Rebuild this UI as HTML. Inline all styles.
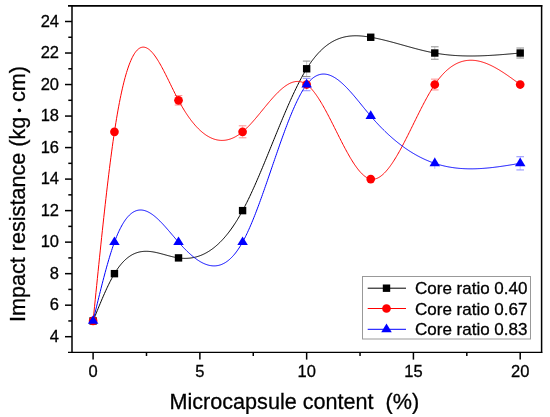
<!DOCTYPE html><html><head><meta charset="utf-8"><style>html,body{margin:0;padding:0;background:#fff;overflow:hidden}svg{display:block}</style></head><body><svg width="550" height="417" viewBox="0 0 550 417">
<rect width="550" height="417" fill="#fff"/>
<g stroke-width="1" fill="none" opacity="0.45">
<path d="M238.78,125.82H246.39M238.78,137.82H246.39" stroke="#f00"/>
<path d="M242.59,125.82V137.82" stroke="#f00" opacity="0.5"/>
<path d="M302.85,61.08H310.45M302.85,76.48H310.45" stroke="#000"/>
<path d="M306.65,61.08V76.48" stroke="#000" opacity="0.5"/>
<path d="M302.85,78.34H310.45M302.85,90.74H310.45" stroke="#00f"/>
<path d="M306.65,78.34V90.74" stroke="#00f" opacity="0.5"/>
<path d="M430.98,46.82H438.58M430.98,59.22H438.58" stroke="#000"/>
<path d="M434.78,46.82V59.22" stroke="#000" opacity="0.5"/>
<path d="M430.98,79.14H438.58M430.98,89.94H438.58" stroke="#f00"/>
<path d="M434.78,79.14V89.94" stroke="#f00" opacity="0.5"/>
<path d="M516.40,48.02H524.00M516.40,58.02H524.00" stroke="#000"/>
<path d="M520.20,48.02V58.02" stroke="#000" opacity="0.5"/>
<path d="M516.40,156.74H524.00M516.40,169.94H524.00" stroke="#00f"/>
<path d="M520.20,156.74V169.94" stroke="#00f" opacity="0.5"/>
<path d="M174.72,95.60H182.32M174.72,105.00H182.32" stroke="#f00"/>
<path d="M178.52,95.60V105.00" stroke="#f00" opacity="0.5"/>
<path d="M434.78,157.34V168.84" stroke="#00f" opacity="0.6"/>
</g>
<path d="M93.10,320.94 L93.81,319.17 L94.52,317.40 L95.24,315.63 L95.95,313.87 L96.66,312.12 L97.37,310.36 L98.08,308.62 L98.79,306.89 L99.51,305.16 L100.22,303.45 L100.93,301.75 L101.64,300.07 L102.35,298.40 L103.07,296.75 L103.78,295.11 L104.49,293.50 L105.20,291.90 L105.91,290.33 L106.62,288.78 L107.34,287.26 L108.05,285.76 L108.76,284.29 L109.47,282.85 L110.18,281.44 L110.90,280.06 L111.61,278.71 L112.32,277.39 L113.03,276.11 L113.74,274.87 L114.45,273.66 L115.17,272.49 L115.88,271.36 L116.59,270.27 L117.30,269.22 L118.01,268.20 L118.73,267.22 L119.44,266.27 L120.15,265.36 L120.86,264.48 L121.57,263.64 L122.29,262.83 L123.00,262.05 L123.71,261.31 L124.42,260.60 L125.13,259.92 L125.84,259.27 L126.56,258.65 L127.27,258.06 L127.98,257.49 L128.69,256.96 L129.40,256.46 L130.12,255.98 L130.83,255.53 L131.54,255.10 L132.25,254.70 L132.96,254.33 L133.67,253.98 L134.39,253.66 L135.10,253.35 L135.81,253.08 L136.52,252.82 L137.23,252.59 L137.95,252.37 L138.66,252.18 L139.37,252.01 L140.08,251.86 L140.79,251.73 L141.50,251.61 L142.22,251.52 L142.93,251.44 L143.64,251.38 L144.35,251.34 L145.06,251.31 L145.78,251.30 L146.49,251.30 L147.20,251.31 L147.91,251.34 L148.62,251.39 L149.33,251.44 L150.05,251.51 L150.76,251.59 L151.47,251.68 L152.18,251.78 L152.89,251.89 L153.61,252.01 L154.32,252.14 L155.03,252.28 L155.74,252.42 L156.45,252.58 L157.16,252.74 L157.88,252.90 L158.59,253.07 L159.30,253.25 L160.01,253.43 L160.72,253.61 L161.44,253.80 L162.15,253.99 L162.86,254.18 L163.57,254.38 L164.28,254.57 L165.00,254.77 L165.71,254.97 L166.42,255.16 L167.13,255.36 L167.84,255.55 L168.55,255.74 L169.27,255.93 L169.98,256.12 L170.69,256.30 L171.40,256.48 L172.11,256.65 L172.83,256.82 L173.54,256.98 L174.25,257.13 L174.96,257.28 L175.67,257.42 L176.38,257.56 L177.10,257.68 L177.81,257.79 L178.52,257.90 L179.23,257.99 L179.94,258.08 L180.66,258.15 L181.37,258.22 L182.08,258.27 L182.79,258.31 L183.50,258.34 L184.21,258.36 L184.93,258.37 L185.64,258.37 L186.35,258.35 L187.06,258.33 L187.77,258.29 L188.49,258.24 L189.20,258.18 L189.91,258.10 L190.62,258.02 L191.33,257.92 L192.04,257.81 L192.76,257.69 L193.47,257.55 L194.18,257.40 L194.89,257.24 L195.60,257.07 L196.32,256.88 L197.03,256.68 L197.74,256.46 L198.45,256.24 L199.16,255.99 L199.88,255.74 L200.59,255.47 L201.30,255.19 L202.01,254.89 L202.72,254.58 L203.43,254.25 L204.15,253.91 L204.86,253.55 L205.57,253.18 L206.28,252.80 L206.99,252.40 L207.71,251.98 L208.42,251.55 L209.13,251.11 L209.84,250.65 L210.55,250.17 L211.26,249.68 L211.98,249.17 L212.69,248.65 L213.40,248.11 L214.11,247.55 L214.82,246.98 L215.54,246.39 L216.25,245.78 L216.96,245.16 L217.67,244.52 L218.38,243.86 L219.09,243.19 L219.81,242.50 L220.52,241.79 L221.23,241.07 L221.94,240.33 L222.65,239.57 L223.37,238.79 L224.08,237.99 L224.79,237.18 L225.50,236.35 L226.21,235.50 L226.92,234.63 L227.64,233.74 L228.35,232.83 L229.06,231.91 L229.77,230.97 L230.48,230.00 L231.20,229.02 L231.91,228.02 L232.62,227.00 L233.33,225.96 L234.04,224.90 L234.75,223.82 L235.47,222.72 L236.18,221.61 L236.89,220.47 L237.60,219.31 L238.31,218.13 L239.03,216.93 L239.74,215.71 L240.45,214.47 L241.16,213.21 L241.87,211.92 L242.59,210.62 L243.30,209.30 L244.01,207.95 L244.72,206.58 L245.43,205.20 L246.14,203.79 L246.86,202.37 L247.57,200.93 L248.28,199.47 L248.99,198.00 L249.70,196.50 L250.42,195.00 L251.13,193.47 L251.84,191.93 L252.55,190.38 L253.26,188.81 L253.97,187.23 L254.69,185.64 L255.40,184.03 L256.11,182.41 L256.82,180.78 L257.53,179.14 L258.25,177.49 L258.96,175.83 L259.67,174.16 L260.38,172.48 L261.09,170.79 L261.80,169.10 L262.52,167.39 L263.23,165.68 L263.94,163.97 L264.65,162.25 L265.36,160.52 L266.08,158.79 L266.79,157.05 L267.50,155.31 L268.21,153.57 L268.92,151.82 L269.63,150.07 L270.35,148.32 L271.06,146.57 L271.77,144.82 L272.48,143.07 L273.19,141.32 L273.91,139.57 L274.62,137.82 L275.33,136.07 L276.04,134.32 L276.75,132.58 L277.46,130.84 L278.18,129.11 L278.89,127.38 L279.60,125.65 L280.31,123.93 L281.02,122.22 L281.74,120.51 L282.45,118.81 L283.16,117.11 L283.87,115.43 L284.58,113.75 L285.29,112.08 L286.01,110.43 L286.72,108.78 L287.43,107.14 L288.14,105.51 L288.85,103.90 L289.57,102.29 L290.28,100.70 L290.99,99.13 L291.70,97.56 L292.41,96.01 L293.13,94.48 L293.84,92.96 L294.55,91.45 L295.26,89.97 L295.97,88.50 L296.68,87.04 L297.40,85.61 L298.11,84.19 L298.82,82.79 L299.53,81.41 L300.24,80.05 L300.96,78.71 L301.67,77.39 L302.38,76.09 L303.09,74.81 L303.80,73.56 L304.51,72.33 L305.23,71.12 L305.94,69.94 L306.65,68.78 L307.36,67.65 L308.07,66.54 L308.79,65.45 L309.50,64.39 L310.21,63.35 L310.92,62.34 L311.63,61.35 L312.34,60.38 L313.06,59.44 L313.77,58.52 L314.48,57.62 L315.19,56.74 L315.90,55.89 L316.62,55.05 L317.33,54.24 L318.04,53.45 L318.75,52.68 L319.46,51.93 L320.17,51.21 L320.89,50.50 L321.60,49.81 L322.31,49.15 L323.02,48.50 L323.73,47.87 L324.45,47.26 L325.16,46.67 L325.87,46.10 L326.58,45.55 L327.29,45.01 L328.00,44.49 L328.72,44.00 L329.43,43.51 L330.14,43.05 L330.85,42.60 L331.56,42.17 L332.28,41.76 L332.99,41.36 L333.70,40.98 L334.41,40.61 L335.12,40.26 L335.84,39.92 L336.55,39.60 L337.26,39.30 L337.97,39.01 L338.68,38.73 L339.39,38.47 L340.11,38.22 L340.82,37.99 L341.53,37.76 L342.24,37.56 L342.95,37.36 L343.67,37.18 L344.38,37.01 L345.09,36.85 L345.80,36.70 L346.51,36.57 L347.22,36.45 L347.94,36.33 L348.65,36.23 L349.36,36.14 L350.07,36.06 L350.78,35.99 L351.50,35.94 L352.21,35.89 L352.92,35.85 L353.63,35.82 L354.34,35.79 L355.05,35.78 L355.77,35.78 L356.48,35.78 L357.19,35.79 L357.90,35.82 L358.61,35.84 L359.33,35.88 L360.04,35.92 L360.75,35.97 L361.46,36.03 L362.17,36.09 L362.88,36.16 L363.60,36.23 L364.31,36.32 L365.02,36.40 L365.73,36.49 L366.44,36.59 L367.16,36.69 L367.87,36.80 L368.58,36.91 L369.29,37.02 L370.00,37.14 L370.72,37.26 L371.43,37.38 L372.14,37.51 L372.85,37.64 L373.56,37.78 L374.27,37.92 L374.99,38.06 L375.70,38.20 L376.41,38.35 L377.12,38.50 L377.83,38.65 L378.55,38.80 L379.26,38.96 L379.97,39.12 L380.68,39.28 L381.39,39.44 L382.10,39.61 L382.82,39.78 L383.53,39.95 L384.24,40.12 L384.95,40.29 L385.66,40.47 L386.38,40.65 L387.09,40.83 L387.80,41.01 L388.51,41.19 L389.22,41.38 L389.93,41.56 L390.65,41.75 L391.36,41.94 L392.07,42.13 L392.78,42.32 L393.49,42.51 L394.21,42.71 L394.92,42.90 L395.63,43.10 L396.34,43.29 L397.05,43.49 L397.76,43.69 L398.48,43.88 L399.19,44.08 L399.90,44.28 L400.61,44.48 L401.32,44.68 L402.04,44.88 L402.75,45.08 L403.46,45.28 L404.17,45.48 L404.88,45.68 L405.59,45.88 L406.31,46.08 L407.02,46.28 L407.73,46.47 L408.44,46.67 L409.15,46.87 L409.87,47.07 L410.58,47.26 L411.29,47.46 L412.00,47.65 L412.71,47.85 L413.42,48.04 L414.14,48.23 L414.85,48.42 L415.56,48.61 L416.27,48.80 L416.98,48.99 L417.70,49.17 L418.41,49.36 L419.12,49.54 L419.83,49.72 L420.54,49.90 L421.26,50.08 L421.97,50.25 L422.68,50.43 L423.39,50.60 L424.10,50.77 L424.81,50.94 L425.53,51.10 L426.24,51.27 L426.95,51.43 L427.66,51.58 L428.37,51.74 L429.09,51.89 L429.80,52.04 L430.51,52.19 L431.22,52.34 L431.93,52.48 L432.64,52.62 L433.36,52.76 L434.07,52.89 L434.78,53.02 L435.49,53.15 L436.20,53.27 L436.92,53.39 L437.63,53.51 L438.34,53.62 L439.05,53.74 L439.76,53.84 L440.47,53.95 L441.19,54.05 L441.90,54.15 L442.61,54.25 L443.32,54.34 L444.03,54.43 L444.75,54.52 L445.46,54.60 L446.17,54.69 L446.88,54.76 L447.59,54.84 L448.30,54.91 L449.02,54.99 L449.73,55.05 L450.44,55.12 L451.15,55.18 L451.86,55.24 L452.58,55.30 L453.29,55.36 L454.00,55.41 L454.71,55.46 L455.42,55.51 L456.13,55.55 L456.85,55.60 L457.56,55.64 L458.27,55.68 L458.98,55.71 L459.69,55.74 L460.41,55.78 L461.12,55.81 L461.83,55.83 L462.54,55.86 L463.25,55.88 L463.97,55.90 L464.68,55.92 L465.39,55.93 L466.10,55.95 L466.81,55.96 L467.52,55.97 L468.24,55.98 L468.95,55.98 L469.66,55.99 L470.37,55.99 L471.08,55.99 L471.80,55.99 L472.51,55.99 L473.22,55.98 L473.93,55.97 L474.64,55.97 L475.35,55.96 L476.07,55.94 L476.78,55.93 L477.49,55.92 L478.20,55.90 L478.91,55.88 L479.63,55.86 L480.34,55.84 L481.05,55.82 L481.76,55.79 L482.47,55.76 L483.18,55.74 L483.90,55.71 L484.61,55.68 L485.32,55.65 L486.03,55.61 L486.74,55.58 L487.46,55.54 L488.17,55.51 L488.88,55.47 L489.59,55.43 L490.30,55.39 L491.01,55.35 L491.73,55.31 L492.44,55.26 L493.15,55.22 L493.86,55.17 L494.57,55.13 L495.29,55.08 L496.00,55.03 L496.71,54.98 L497.42,54.93 L498.13,54.88 L498.85,54.83 L499.56,54.78 L500.27,54.72 L500.98,54.67 L501.69,54.61 L502.40,54.56 L503.12,54.50 L503.83,54.45 L504.54,54.39 L505.25,54.33 L505.96,54.27 L506.68,54.21 L507.39,54.15 L508.10,54.09 L508.81,54.03 L509.52,53.97 L510.23,53.91 L510.95,53.85 L511.66,53.78 L512.37,53.72 L513.08,53.66 L513.79,53.60 L514.51,53.53 L515.22,53.47 L515.93,53.41 L516.64,53.34 L517.35,53.28 L518.06,53.21 L518.78,53.15 L519.49,53.08 L520.20,53.02" fill="none" stroke="#000" stroke-width="1.0"/>
<path d="M93.10,320.94 L93.81,313.85 L94.52,306.77 L95.24,299.69 L95.95,292.63 L96.66,285.60 L97.37,278.58 L98.08,271.60 L98.79,264.66 L99.51,257.76 L100.22,250.91 L100.93,244.11 L101.64,237.36 L102.35,230.68 L103.07,224.07 L103.78,217.53 L104.49,211.07 L105.20,204.69 L105.91,198.41 L106.62,192.21 L107.34,186.12 L108.05,180.13 L108.76,174.25 L109.47,168.49 L110.18,162.85 L110.90,157.33 L111.61,151.95 L112.32,146.70 L113.03,141.59 L113.74,136.63 L114.45,131.82 L115.17,127.17 L115.88,122.67 L116.59,118.33 L117.30,114.13 L118.01,110.09 L118.73,106.20 L119.44,102.45 L120.15,98.84 L120.86,95.37 L121.57,92.05 L122.29,88.86 L123.00,85.80 L123.71,82.88 L124.42,80.10 L125.13,77.44 L125.84,74.90 L126.56,72.50 L127.27,70.21 L127.98,68.05 L128.69,66.01 L129.40,64.08 L130.12,62.27 L130.83,60.58 L131.54,58.99 L132.25,57.51 L132.96,56.15 L133.67,54.88 L134.39,53.72 L135.10,52.66 L135.81,51.70 L136.52,50.84 L137.23,50.08 L137.95,49.40 L138.66,48.82 L139.37,48.33 L140.08,47.92 L140.79,47.60 L141.50,47.37 L142.22,47.21 L142.93,47.13 L143.64,47.14 L144.35,47.21 L145.06,47.36 L145.78,47.58 L146.49,47.87 L147.20,48.23 L147.91,48.66 L148.62,49.14 L149.33,49.69 L150.05,50.30 L150.76,50.96 L151.47,51.68 L152.18,52.46 L152.89,53.28 L153.61,54.16 L154.32,55.08 L155.03,56.04 L155.74,57.05 L156.45,58.11 L157.16,59.20 L157.88,60.32 L158.59,61.49 L159.30,62.68 L160.01,63.91 L160.72,65.17 L161.44,66.46 L162.15,67.77 L162.86,69.10 L163.57,70.45 L164.28,71.83 L165.00,73.22 L165.71,74.63 L166.42,76.05 L167.13,77.48 L167.84,78.92 L168.55,80.37 L169.27,81.82 L169.98,83.28 L170.69,84.74 L171.40,86.20 L172.11,87.65 L172.83,89.10 L173.54,90.55 L174.25,91.98 L174.96,93.41 L175.67,94.82 L176.38,96.22 L177.10,97.60 L177.81,98.96 L178.52,100.30 L179.23,101.62 L179.94,102.92 L180.66,104.19 L181.37,105.44 L182.08,106.67 L182.79,107.88 L183.50,109.06 L184.21,110.22 L184.93,111.36 L185.64,112.48 L186.35,113.57 L187.06,114.64 L187.77,115.69 L188.49,116.72 L189.20,117.72 L189.91,118.71 L190.62,119.67 L191.33,120.61 L192.04,121.52 L192.76,122.42 L193.47,123.29 L194.18,124.14 L194.89,124.97 L195.60,125.77 L196.32,126.56 L197.03,127.32 L197.74,128.06 L198.45,128.78 L199.16,129.47 L199.88,130.15 L200.59,130.80 L201.30,131.43 L202.01,132.04 L202.72,132.63 L203.43,133.20 L204.15,133.74 L204.86,134.26 L205.57,134.77 L206.28,135.25 L206.99,135.70 L207.71,136.14 L208.42,136.56 L209.13,136.95 L209.84,137.32 L210.55,137.67 L211.26,138.00 L211.98,138.31 L212.69,138.60 L213.40,138.86 L214.11,139.11 L214.82,139.33 L215.54,139.54 L216.25,139.72 L216.96,139.88 L217.67,140.02 L218.38,140.13 L219.09,140.23 L219.81,140.31 L220.52,140.36 L221.23,140.40 L221.94,140.41 L222.65,140.40 L223.37,140.37 L224.08,140.32 L224.79,140.25 L225.50,140.16 L226.21,140.05 L226.92,139.92 L227.64,139.76 L228.35,139.59 L229.06,139.39 L229.77,139.18 L230.48,138.94 L231.20,138.69 L231.91,138.41 L232.62,138.11 L233.33,137.80 L234.04,137.46 L234.75,137.10 L235.47,136.72 L236.18,136.32 L236.89,135.90 L237.60,135.46 L238.31,135.00 L239.03,134.52 L239.74,134.02 L240.45,133.50 L241.16,132.96 L241.87,132.40 L242.59,131.82 L243.30,131.22 L244.01,130.60 L244.72,129.96 L245.43,129.30 L246.14,128.63 L246.86,127.94 L247.57,127.23 L248.28,126.51 L248.99,125.78 L249.70,125.03 L250.42,124.27 L251.13,123.49 L251.84,122.71 L252.55,121.91 L253.26,121.11 L253.97,120.29 L254.69,119.47 L255.40,118.63 L256.11,117.80 L256.82,116.95 L257.53,116.10 L258.25,115.24 L258.96,114.38 L259.67,113.52 L260.38,112.65 L261.09,111.78 L261.80,110.91 L262.52,110.04 L263.23,109.17 L263.94,108.30 L264.65,107.43 L265.36,106.56 L266.08,105.70 L266.79,104.84 L267.50,103.98 L268.21,103.13 L268.92,102.29 L269.63,101.45 L270.35,100.62 L271.06,99.80 L271.77,98.98 L272.48,98.17 L273.19,97.38 L273.91,96.59 L274.62,95.82 L275.33,95.06 L276.04,94.31 L276.75,93.58 L277.46,92.86 L278.18,92.15 L278.89,91.46 L279.60,90.79 L280.31,90.14 L281.02,89.50 L281.74,88.88 L282.45,88.28 L283.16,87.70 L283.87,87.14 L284.58,86.60 L285.29,86.09 L286.01,85.60 L286.72,85.13 L287.43,84.69 L288.14,84.27 L288.85,83.87 L289.57,83.51 L290.28,83.17 L290.99,82.86 L291.70,82.58 L292.41,82.32 L293.13,82.10 L293.84,81.91 L294.55,81.75 L295.26,81.62 L295.97,81.52 L296.68,81.46 L297.40,81.43 L298.11,81.44 L298.82,81.49 L299.53,81.57 L300.24,81.68 L300.96,81.84 L301.67,82.03 L302.38,82.27 L303.09,82.54 L303.80,82.86 L304.51,83.21 L305.23,83.61 L305.94,84.05 L306.65,84.54 L307.36,85.07 L308.07,85.64 L308.79,86.26 L309.50,86.91 L310.21,87.61 L310.92,88.35 L311.63,89.12 L312.34,89.93 L313.06,90.78 L313.77,91.66 L314.48,92.57 L315.19,93.52 L315.90,94.50 L316.62,95.51 L317.33,96.55 L318.04,97.62 L318.75,98.71 L319.46,99.83 L320.17,100.98 L320.89,102.15 L321.60,103.34 L322.31,104.55 L323.02,105.79 L323.73,107.04 L324.45,108.31 L325.16,109.60 L325.87,110.91 L326.58,112.23 L327.29,113.57 L328.00,114.92 L328.72,116.28 L329.43,117.65 L330.14,119.03 L330.85,120.42 L331.56,121.82 L332.28,123.23 L332.99,124.64 L333.70,126.06 L334.41,127.47 L335.12,128.90 L335.84,130.32 L336.55,131.74 L337.26,133.16 L337.97,134.58 L338.68,136.00 L339.39,137.41 L340.11,138.82 L340.82,140.22 L341.53,141.62 L342.24,143.00 L342.95,144.38 L343.67,145.74 L344.38,147.10 L345.09,148.44 L345.80,149.76 L346.51,151.08 L347.22,152.37 L347.94,153.65 L348.65,154.91 L349.36,156.15 L350.07,157.38 L350.78,158.58 L351.50,159.75 L352.21,160.91 L352.92,162.04 L353.63,163.14 L354.34,164.22 L355.05,165.26 L355.77,166.28 L356.48,167.27 L357.19,168.23 L357.90,169.16 L358.61,170.05 L359.33,170.91 L360.04,171.74 L360.75,172.52 L361.46,173.27 L362.17,173.98 L362.88,174.65 L363.60,175.28 L364.31,175.87 L365.02,176.42 L365.73,176.92 L366.44,177.37 L367.16,177.78 L367.87,178.15 L368.58,178.46 L369.29,178.72 L370.00,178.94 L370.72,179.10 L371.43,179.21 L372.14,179.27 L372.85,179.28 L373.56,179.23 L374.27,179.14 L374.99,179.00 L375.70,178.81 L376.41,178.58 L377.12,178.30 L377.83,177.97 L378.55,177.60 L379.26,177.19 L379.97,176.74 L380.68,176.24 L381.39,175.71 L382.10,175.13 L382.82,174.52 L383.53,173.86 L384.24,173.18 L384.95,172.45 L385.66,171.69 L386.38,170.90 L387.09,170.07 L387.80,169.21 L388.51,168.32 L389.22,167.39 L389.93,166.44 L390.65,165.46 L391.36,164.45 L392.07,163.41 L392.78,162.35 L393.49,161.26 L394.21,160.15 L394.92,159.01 L395.63,157.85 L396.34,156.67 L397.05,155.47 L397.76,154.24 L398.48,153.00 L399.19,151.74 L399.90,150.46 L400.61,149.17 L401.32,147.86 L402.04,146.53 L402.75,145.19 L403.46,143.84 L404.17,142.47 L404.88,141.09 L405.59,139.70 L406.31,138.31 L407.02,136.90 L407.73,135.49 L408.44,134.07 L409.15,132.64 L409.87,131.21 L410.58,129.77 L411.29,128.33 L412.00,126.88 L412.71,125.44 L413.42,123.99 L414.14,122.55 L414.85,121.10 L415.56,119.66 L416.27,118.22 L416.98,116.78 L417.70,115.35 L418.41,113.92 L419.12,112.50 L419.83,111.08 L420.54,109.67 L421.26,108.28 L421.97,106.89 L422.68,105.51 L423.39,104.14 L424.10,102.79 L424.81,101.45 L425.53,100.12 L426.24,98.81 L426.95,97.51 L427.66,96.23 L428.37,94.97 L429.09,93.72 L429.80,92.50 L430.51,91.30 L431.22,90.11 L431.93,88.95 L432.64,87.81 L433.36,86.70 L434.07,85.61 L434.78,84.54 L435.49,83.50 L436.20,82.49 L436.92,81.50 L437.63,80.54 L438.34,79.60 L439.05,78.69 L439.76,77.81 L440.47,76.95 L441.19,76.11 L441.90,75.30 L442.61,74.51 L443.32,73.74 L444.03,73.00 L444.75,72.29 L445.46,71.59 L446.17,70.92 L446.88,70.27 L447.59,69.65 L448.30,69.05 L449.02,68.46 L449.73,67.91 L450.44,67.37 L451.15,66.85 L451.86,66.36 L452.58,65.88 L453.29,65.43 L454.00,65.00 L454.71,64.59 L455.42,64.20 L456.13,63.82 L456.85,63.47 L457.56,63.14 L458.27,62.83 L458.98,62.53 L459.69,62.26 L460.41,62.00 L461.12,61.76 L461.83,61.54 L462.54,61.34 L463.25,61.16 L463.97,60.99 L464.68,60.84 L465.39,60.71 L466.10,60.59 L466.81,60.50 L467.52,60.41 L468.24,60.35 L468.95,60.30 L469.66,60.26 L470.37,60.24 L471.08,60.24 L471.80,60.25 L472.51,60.28 L473.22,60.32 L473.93,60.38 L474.64,60.45 L475.35,60.53 L476.07,60.63 L476.78,60.74 L477.49,60.87 L478.20,61.00 L478.91,61.15 L479.63,61.32 L480.34,61.49 L481.05,61.68 L481.76,61.88 L482.47,62.10 L483.18,62.32 L483.90,62.56 L484.61,62.80 L485.32,63.06 L486.03,63.33 L486.74,63.61 L487.46,63.90 L488.17,64.19 L488.88,64.50 L489.59,64.82 L490.30,65.15 L491.01,65.49 L491.73,65.83 L492.44,66.19 L493.15,66.55 L493.86,66.92 L494.57,67.30 L495.29,67.69 L496.00,68.09 L496.71,68.49 L497.42,68.90 L498.13,69.32 L498.85,69.74 L499.56,70.17 L500.27,70.61 L500.98,71.05 L501.69,71.50 L502.40,71.96 L503.12,72.42 L503.83,72.88 L504.54,73.35 L505.25,73.83 L505.96,74.31 L506.68,74.79 L507.39,75.28 L508.10,75.78 L508.81,76.27 L509.52,76.77 L510.23,77.27 L510.95,77.78 L511.66,78.29 L512.37,78.80 L513.08,79.32 L513.79,79.83 L514.51,80.35 L515.22,80.87 L515.93,81.39 L516.64,81.91 L517.35,82.44 L518.06,82.96 L518.78,83.49 L519.49,84.01 L520.20,84.54" fill="none" stroke="#f00" stroke-width="1.0"/>
<path d="M93.10,320.94 L93.81,317.97 L94.52,315.01 L95.24,312.04 L95.95,309.09 L96.66,306.14 L97.37,303.21 L98.08,300.29 L98.79,297.38 L99.51,294.50 L100.22,291.63 L100.93,288.79 L101.64,285.97 L102.35,283.18 L103.07,280.42 L103.78,277.69 L104.49,275.00 L105.20,272.34 L105.91,269.72 L106.62,267.14 L107.34,264.61 L108.05,262.12 L108.76,259.67 L109.47,257.28 L110.18,254.94 L110.90,252.66 L111.61,250.43 L112.32,248.26 L113.03,246.16 L113.74,244.12 L114.45,242.14 L115.17,240.23 L115.88,238.39 L116.59,236.62 L117.30,234.91 L118.01,233.27 L118.73,231.69 L119.44,230.17 L120.15,228.72 L120.86,227.33 L121.57,226.00 L122.29,224.73 L123.00,223.52 L123.71,222.36 L124.42,221.27 L125.13,220.23 L125.84,219.25 L126.56,218.32 L127.27,217.44 L127.98,216.62 L128.69,215.85 L129.40,215.14 L130.12,214.47 L130.83,213.86 L131.54,213.29 L132.25,212.77 L132.96,212.30 L133.67,211.87 L134.39,211.49 L135.10,211.16 L135.81,210.87 L136.52,210.62 L137.23,210.42 L137.95,210.26 L138.66,210.13 L139.37,210.05 L140.08,210.01 L140.79,210.00 L141.50,210.03 L142.22,210.10 L142.93,210.20 L143.64,210.34 L144.35,210.51 L145.06,210.72 L145.78,210.96 L146.49,211.22 L147.20,211.52 L147.91,211.85 L148.62,212.21 L149.33,212.60 L150.05,213.01 L150.76,213.45 L151.47,213.91 L152.18,214.40 L152.89,214.92 L153.61,215.45 L154.32,216.01 L155.03,216.59 L155.74,217.19 L156.45,217.81 L157.16,218.45 L157.88,219.11 L158.59,219.78 L159.30,220.47 L160.01,221.17 L160.72,221.89 L161.44,222.63 L162.15,223.37 L162.86,224.13 L163.57,224.90 L164.28,225.68 L165.00,226.47 L165.71,227.27 L166.42,228.07 L167.13,228.88 L167.84,229.70 L168.55,230.53 L169.27,231.35 L169.98,232.19 L170.69,233.02 L171.40,233.86 L172.11,234.69 L172.83,235.53 L173.54,236.37 L174.25,237.20 L174.96,238.04 L175.67,238.87 L176.38,239.69 L177.10,240.52 L177.81,241.33 L178.52,242.14 L179.23,242.94 L179.94,243.74 L180.66,244.52 L181.37,245.30 L182.08,246.07 L182.79,246.83 L183.50,247.58 L184.21,248.32 L184.93,249.05 L185.64,249.77 L186.35,250.48 L187.06,251.18 L187.77,251.86 L188.49,252.54 L189.20,253.20 L189.91,253.85 L190.62,254.48 L191.33,255.11 L192.04,255.72 L192.76,256.31 L193.47,256.89 L194.18,257.46 L194.89,258.01 L195.60,258.55 L196.32,259.07 L197.03,259.57 L197.74,260.06 L198.45,260.53 L199.16,260.98 L199.88,261.42 L200.59,261.83 L201.30,262.23 L202.01,262.61 L202.72,262.98 L203.43,263.32 L204.15,263.64 L204.86,263.94 L205.57,264.23 L206.28,264.49 L206.99,264.73 L207.71,264.95 L208.42,265.15 L209.13,265.32 L209.84,265.47 L210.55,265.60 L211.26,265.71 L211.98,265.79 L212.69,265.85 L213.40,265.89 L214.11,265.90 L214.82,265.89 L215.54,265.85 L216.25,265.78 L216.96,265.69 L217.67,265.57 L218.38,265.43 L219.09,265.26 L219.81,265.06 L220.52,264.83 L221.23,264.58 L221.94,264.30 L222.65,263.98 L223.37,263.64 L224.08,263.27 L224.79,262.87 L225.50,262.44 L226.21,261.98 L226.92,261.49 L227.64,260.97 L228.35,260.41 L229.06,259.83 L229.77,259.21 L230.48,258.56 L231.20,257.87 L231.91,257.15 L232.62,256.40 L233.33,255.62 L234.04,254.80 L234.75,253.94 L235.47,253.05 L236.18,252.12 L236.89,251.16 L237.60,250.17 L238.31,249.13 L239.03,248.06 L239.74,246.95 L240.45,245.81 L241.16,244.62 L241.87,243.40 L242.59,242.14 L243.30,240.84 L244.01,239.50 L244.72,238.13 L245.43,236.72 L246.14,235.27 L246.86,233.79 L247.57,232.28 L248.28,230.73 L248.99,229.16 L249.70,227.55 L250.42,225.91 L251.13,224.25 L251.84,222.55 L252.55,220.83 L253.26,219.09 L253.97,217.32 L254.69,215.52 L255.40,213.71 L256.11,211.87 L256.82,210.01 L257.53,208.13 L258.25,206.23 L258.96,204.31 L259.67,202.38 L260.38,200.43 L261.09,198.46 L261.80,196.48 L262.52,194.49 L263.23,192.49 L263.94,190.47 L264.65,188.44 L265.36,186.41 L266.08,184.36 L266.79,182.31 L267.50,180.25 L268.21,178.18 L268.92,176.11 L269.63,174.04 L270.35,171.96 L271.06,169.89 L271.77,167.81 L272.48,165.73 L273.19,163.65 L273.91,161.57 L274.62,159.50 L275.33,157.43 L276.04,155.36 L276.75,153.30 L277.46,151.25 L278.18,149.21 L278.89,147.17 L279.60,145.14 L280.31,143.12 L281.02,141.12 L281.74,139.13 L282.45,137.15 L283.16,135.18 L283.87,133.23 L284.58,131.30 L285.29,129.38 L286.01,127.48 L286.72,125.60 L287.43,123.74 L288.14,121.90 L288.85,120.08 L289.57,118.29 L290.28,116.52 L290.99,114.77 L291.70,113.05 L292.41,111.36 L293.13,109.69 L293.84,108.06 L294.55,106.45 L295.26,104.87 L295.97,103.32 L296.68,101.81 L297.40,100.33 L298.11,98.88 L298.82,97.47 L299.53,96.10 L300.24,94.76 L300.96,93.46 L301.67,92.20 L302.38,90.98 L303.09,89.80 L303.80,88.66 L304.51,87.56 L305.23,86.51 L305.94,85.50 L306.65,84.54 L307.36,83.62 L308.07,82.76 L308.79,81.93 L309.50,81.15 L310.21,80.42 L310.92,79.73 L311.63,79.08 L312.34,78.47 L313.06,77.91 L313.77,77.38 L314.48,76.90 L315.19,76.46 L315.90,76.06 L316.62,75.69 L317.33,75.36 L318.04,75.08 L318.75,74.83 L319.46,74.61 L320.17,74.43 L320.89,74.29 L321.60,74.18 L322.31,74.10 L323.02,74.06 L323.73,74.05 L324.45,74.07 L325.16,74.13 L325.87,74.21 L326.58,74.33 L327.29,74.48 L328.00,74.65 L328.72,74.86 L329.43,75.09 L330.14,75.35 L330.85,75.63 L331.56,75.95 L332.28,76.28 L332.99,76.65 L333.70,77.04 L334.41,77.45 L335.12,77.88 L335.84,78.34 L336.55,78.82 L337.26,79.32 L337.97,79.84 L338.68,80.38 L339.39,80.95 L340.11,81.53 L340.82,82.13 L341.53,82.74 L342.24,83.38 L342.95,84.03 L343.67,84.70 L344.38,85.38 L345.09,86.08 L345.80,86.79 L346.51,87.51 L347.22,88.25 L347.94,89.00 L348.65,89.77 L349.36,90.54 L350.07,91.33 L350.78,92.12 L351.50,92.93 L352.21,93.74 L352.92,94.56 L353.63,95.39 L354.34,96.23 L355.05,97.07 L355.77,97.92 L356.48,98.77 L357.19,99.63 L357.90,100.50 L358.61,101.36 L359.33,102.23 L360.04,103.11 L360.75,103.98 L361.46,104.85 L362.17,105.73 L362.88,106.61 L363.60,107.48 L364.31,108.35 L365.02,109.23 L365.73,110.09 L366.44,110.96 L367.16,111.82 L367.87,112.68 L368.58,113.53 L369.29,114.38 L370.00,115.22 L370.72,116.06 L371.43,116.89 L372.14,117.71 L372.85,118.52 L373.56,119.33 L374.27,120.13 L374.99,120.92 L375.70,121.71 L376.41,122.48 L377.12,123.25 L377.83,124.02 L378.55,124.77 L379.26,125.52 L379.97,126.27 L380.68,127.00 L381.39,127.73 L382.10,128.45 L382.82,129.17 L383.53,129.87 L384.24,130.57 L384.95,131.27 L385.66,131.95 L386.38,132.63 L387.09,133.31 L387.80,133.97 L388.51,134.63 L389.22,135.28 L389.93,135.93 L390.65,136.56 L391.36,137.20 L392.07,137.82 L392.78,138.44 L393.49,139.05 L394.21,139.65 L394.92,140.25 L395.63,140.84 L396.34,141.42 L397.05,142.00 L397.76,142.57 L398.48,143.14 L399.19,143.69 L399.90,144.24 L400.61,144.79 L401.32,145.32 L402.04,145.85 L402.75,146.38 L403.46,146.90 L404.17,147.41 L404.88,147.91 L405.59,148.41 L406.31,148.90 L407.02,149.38 L407.73,149.86 L408.44,150.33 L409.15,150.80 L409.87,151.26 L410.58,151.71 L411.29,152.15 L412.00,152.59 L412.71,153.03 L413.42,153.45 L414.14,153.87 L414.85,154.29 L415.56,154.69 L416.27,155.09 L416.98,155.49 L417.70,155.88 L418.41,156.26 L419.12,156.63 L419.83,157.00 L420.54,157.37 L421.26,157.72 L421.97,158.07 L422.68,158.42 L423.39,158.76 L424.10,159.09 L424.81,159.42 L425.53,159.74 L426.24,160.05 L426.95,160.36 L427.66,160.66 L428.37,160.95 L429.09,161.24 L429.80,161.53 L430.51,161.80 L431.22,162.07 L431.93,162.34 L432.64,162.60 L433.36,162.85 L434.07,163.10 L434.78,163.34 L435.49,163.58 L436.20,163.80 L436.92,164.03 L437.63,164.25 L438.34,164.46 L439.05,164.66 L439.76,164.86 L440.47,165.06 L441.19,165.25 L441.90,165.43 L442.61,165.61 L443.32,165.78 L444.03,165.95 L444.75,166.11 L445.46,166.27 L446.17,166.42 L446.88,166.57 L447.59,166.71 L448.30,166.85 L449.02,166.98 L449.73,167.10 L450.44,167.23 L451.15,167.34 L451.86,167.46 L452.58,167.56 L453.29,167.66 L454.00,167.76 L454.71,167.86 L455.42,167.94 L456.13,168.03 L456.85,168.11 L457.56,168.18 L458.27,168.25 L458.98,168.32 L459.69,168.38 L460.41,168.44 L461.12,168.50 L461.83,168.54 L462.54,168.59 L463.25,168.63 L463.97,168.67 L464.68,168.70 L465.39,168.73 L466.10,168.76 L466.81,168.78 L467.52,168.80 L468.24,168.82 L468.95,168.83 L469.66,168.83 L470.37,168.84 L471.08,168.84 L471.80,168.84 L472.51,168.83 L473.22,168.82 L473.93,168.81 L474.64,168.79 L475.35,168.77 L476.07,168.75 L476.78,168.73 L477.49,168.70 L478.20,168.67 L478.91,168.63 L479.63,168.60 L480.34,168.56 L481.05,168.51 L481.76,168.47 L482.47,168.42 L483.18,168.37 L483.90,168.32 L484.61,168.26 L485.32,168.20 L486.03,168.14 L486.74,168.08 L487.46,168.01 L488.17,167.94 L488.88,167.87 L489.59,167.80 L490.30,167.73 L491.01,167.65 L491.73,167.57 L492.44,167.49 L493.15,167.41 L493.86,167.33 L494.57,167.24 L495.29,167.15 L496.00,167.06 L496.71,166.97 L497.42,166.88 L498.13,166.79 L498.85,166.69 L499.56,166.59 L500.27,166.49 L500.98,166.39 L501.69,166.29 L502.40,166.19 L503.12,166.08 L503.83,165.98 L504.54,165.87 L505.25,165.76 L505.96,165.66 L506.68,165.55 L507.39,165.44 L508.10,165.32 L508.81,165.21 L509.52,165.10 L510.23,164.98 L510.95,164.87 L511.66,164.75 L512.37,164.64 L513.08,164.52 L513.79,164.41 L514.51,164.29 L515.22,164.17 L515.93,164.05 L516.64,163.93 L517.35,163.82 L518.06,163.70 L518.78,163.58 L519.49,163.46 L520.20,163.34" fill="none" stroke="#00f" stroke-width="1.0"/>
<rect x="89.40" y="317.24" width="7.4" height="7.4" fill="#000"/>
<rect x="110.75" y="269.96" width="7.4" height="7.4" fill="#000"/>
<rect x="174.82" y="254.20" width="7.4" height="7.4" fill="#000"/>
<rect x="238.89" y="206.92" width="7.4" height="7.4" fill="#000"/>
<rect x="302.95" y="65.08" width="7.4" height="7.4" fill="#000"/>
<rect x="367.02" y="33.56" width="7.4" height="7.4" fill="#000"/>
<rect x="431.08" y="49.32" width="7.4" height="7.4" fill="#000"/>
<rect x="516.50" y="49.32" width="7.4" height="7.4" fill="#000"/>
<circle cx="93.10" cy="320.94" r="4.35" fill="#f00"/>
<circle cx="114.45" cy="131.82" r="4.35" fill="#f00"/>
<circle cx="178.52" cy="100.30" r="4.35" fill="#f00"/>
<circle cx="242.59" cy="131.82" r="4.35" fill="#f00"/>
<circle cx="306.65" cy="84.54" r="4.35" fill="#f00"/>
<circle cx="370.72" cy="179.10" r="4.35" fill="#f00"/>
<circle cx="434.78" cy="84.54" r="4.35" fill="#f00"/>
<circle cx="520.20" cy="84.54" r="4.35" fill="#f00"/>
<polygon points="93.10,315.21 98.35,323.81 87.85,323.81" fill="#00f"/>
<polygon points="114.45,236.41 119.70,245.01 109.20,245.01" fill="#00f"/>
<polygon points="178.52,236.41 183.77,245.01 173.27,245.01" fill="#00f"/>
<polygon points="242.59,236.41 247.84,245.01 237.34,245.01" fill="#00f"/>
<polygon points="306.65,78.81 311.90,87.41 301.40,87.41" fill="#00f"/>
<polygon points="370.72,110.33 375.97,118.93 365.47,118.93" fill="#00f"/>
<polygon points="434.78,157.61 440.03,166.21 429.53,166.21" fill="#00f"/>
<polygon points="520.20,157.61 525.45,166.21 514.95,166.21" fill="#00f"/>
<g stroke="#000" fill="none">
<path d="M72,5V353" stroke-width="1.8" stroke="#2a2a2a"/>
<path d="M68,5.9H542.3" stroke-width="1.7"/>
<path d="M68,352.4H542.3" stroke-width="1.4"/>
<path d="M541.6,5V353" stroke-width="1.5"/>
<path d="M65,336.70H72" stroke-width="1.5"/>
<path d="M68.3,320.94H72" stroke-width="1.5"/>
<path d="M65,305.18H72" stroke-width="1.5"/>
<path d="M68.3,289.42H72" stroke-width="1.5"/>
<path d="M65,273.66H72" stroke-width="1.5"/>
<path d="M68.3,257.90H72" stroke-width="1.5"/>
<path d="M65,242.14H72" stroke-width="1.5"/>
<path d="M68.3,226.38H72" stroke-width="1.5"/>
<path d="M65,210.62H72" stroke-width="1.5"/>
<path d="M68.3,194.86H72" stroke-width="1.5"/>
<path d="M65,179.10H72" stroke-width="1.5"/>
<path d="M68.3,163.34H72" stroke-width="1.5"/>
<path d="M65,147.58H72" stroke-width="1.5"/>
<path d="M68.3,131.82H72" stroke-width="1.5"/>
<path d="M65,116.06H72" stroke-width="1.5"/>
<path d="M68.3,100.30H72" stroke-width="1.5"/>
<path d="M65,84.54H72" stroke-width="1.5"/>
<path d="M68.3,68.78H72" stroke-width="1.5"/>
<path d="M65,53.02H72" stroke-width="1.5"/>
<path d="M68.3,37.26H72" stroke-width="1.5"/>
<path d="M65,21.50H72" stroke-width="1.5"/>
<path d="M93.10,352V359.6" stroke-width="1.5"/>
<path d="M146.49,352V356" stroke-width="1.5"/>
<path d="M199.88,352V359.6" stroke-width="1.5"/>
<path d="M253.26,352V356" stroke-width="1.5"/>
<path d="M306.65,352V359.6" stroke-width="1.5"/>
<path d="M360.04,352V356" stroke-width="1.5"/>
<path d="M413.42,352V359.6" stroke-width="1.5"/>
<path d="M466.81,352V356" stroke-width="1.5"/>
<path d="M520.20,352V359.6" stroke-width="1.5"/>
</g>
<text x="59" y="342.00" text-anchor="end" font-family="Liberation Sans, sans-serif" stroke="#000" stroke-width="0.3" font-size="16.5">4</text>
<text x="59" y="310.48" text-anchor="end" font-family="Liberation Sans, sans-serif" stroke="#000" stroke-width="0.3" font-size="16.5">6</text>
<text x="59" y="278.96" text-anchor="end" font-family="Liberation Sans, sans-serif" stroke="#000" stroke-width="0.3" font-size="16.5">8</text>
<text x="59" y="247.44" text-anchor="end" font-family="Liberation Sans, sans-serif" stroke="#000" stroke-width="0.3" font-size="16.5">10</text>
<text x="59" y="215.92" text-anchor="end" font-family="Liberation Sans, sans-serif" stroke="#000" stroke-width="0.3" font-size="16.5">12</text>
<text x="59" y="184.40" text-anchor="end" font-family="Liberation Sans, sans-serif" stroke="#000" stroke-width="0.3" font-size="16.5">14</text>
<text x="59" y="152.88" text-anchor="end" font-family="Liberation Sans, sans-serif" stroke="#000" stroke-width="0.3" font-size="16.5">16</text>
<text x="59" y="121.36" text-anchor="end" font-family="Liberation Sans, sans-serif" stroke="#000" stroke-width="0.3" font-size="16.5">18</text>
<text x="59" y="89.84" text-anchor="end" font-family="Liberation Sans, sans-serif" stroke="#000" stroke-width="0.3" font-size="16.5">20</text>
<text x="59" y="58.32" text-anchor="end" font-family="Liberation Sans, sans-serif" stroke="#000" stroke-width="0.3" font-size="16.5">22</text>
<text x="59" y="26.80" text-anchor="end" font-family="Liberation Sans, sans-serif" stroke="#000" stroke-width="0.3" font-size="16.5">24</text>
<text x="93.10" y="377" text-anchor="middle" font-family="Liberation Sans, sans-serif" stroke="#000" stroke-width="0.3" font-size="16.5">0</text>
<text x="199.88" y="377" text-anchor="middle" font-family="Liberation Sans, sans-serif" stroke="#000" stroke-width="0.3" font-size="16.5">5</text>
<text x="306.65" y="377" text-anchor="middle" font-family="Liberation Sans, sans-serif" stroke="#000" stroke-width="0.3" font-size="16.5">10</text>
<text x="413.42" y="377" text-anchor="middle" font-family="Liberation Sans, sans-serif" stroke="#000" stroke-width="0.3" font-size="16.5">15</text>
<text x="520.20" y="377" text-anchor="middle" font-family="Liberation Sans, sans-serif" stroke="#000" stroke-width="0.3" font-size="16.5">20</text>
<text x="169.5" y="408.5" font-family="Liberation Sans, sans-serif" stroke="#000" stroke-width="0.3" font-size="21.6" xml:space="preserve">Microcapsule content  (%)</text>
<g transform="translate(25,322) rotate(-90)"><text x="0" y="0" font-family="Liberation Sans, sans-serif" stroke="#000" stroke-width="0.3" font-size="21.6">Impact resistance (kg</text><text x="220" y="0" font-family="Liberation Sans, sans-serif" stroke="#000" stroke-width="0.3" font-size="21.6">cm)</text></g>
<circle cx="19.4" cy="110.4" r="1.8" fill="#000"/>
<rect x="362.5" y="276.5" width="168" height="62.5" fill="#fff" stroke="#999" stroke-width="1"/>
<path d="M367.7,288.2H406" stroke="#000" stroke-width="1"/>
<rect x="382.80" y="284.50" width="7.4" height="7.4" fill="#000"/>
<text x="415" y="294.20" font-family="Liberation Sans, sans-serif" stroke="#000" stroke-width="0.3" font-size="17">Core ratio 0.40</text>
<path d="M367.7,308.5H406" stroke="#f00" stroke-width="1"/>
<circle cx="386.50" cy="308.50" r="4.35" fill="#f00"/>
<text x="415" y="314.50" font-family="Liberation Sans, sans-serif" stroke="#000" stroke-width="0.3" font-size="17">Core ratio 0.67</text>
<path d="M367.7,329.3H406" stroke="#00f" stroke-width="1"/>
<polygon points="386.50,323.57 391.75,332.17 381.25,332.17" fill="#00f"/>
<text x="415" y="335.30" font-family="Liberation Sans, sans-serif" stroke="#000" stroke-width="0.3" font-size="17">Core ratio 0.83</text>
</svg></body></html>
